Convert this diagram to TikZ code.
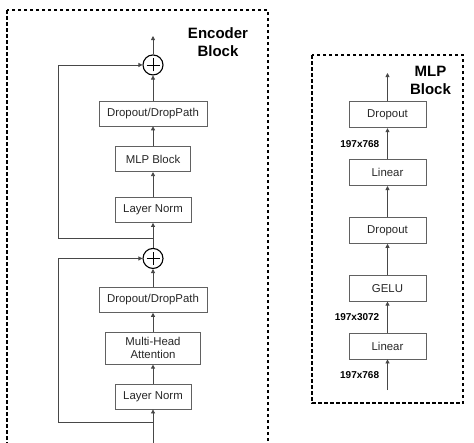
\documentclass[tikz,border=0pt]{standalone}
\usepackage{fontspec}
\setmainfont{Liberation Sans}
\usetikzlibrary{positioning,arrows.meta,chains}

\begin{document}
\begin{tikzpicture}[x=1pt, y=1pt, >={Triangle[length=4pt,width=4pt]},
            node distance = 19pt,
            line/.style = {draw=black!72, line width=0.8pt},
            box/.style = {draw=black!62, line width=0.8pt, minimum height=25pt, align=center,
                    inner sep=2pt, text=black!85, font=\fontsize{11.4}{13}\selectfont},
            addnode/.style = {circle, draw, line width=1.1pt, minimum size=20pt, inner sep=0pt,
                    path picture={\draw[line width=0.9pt]
                        ([xshift=-6.5pt]path picture bounding box.center) -- ([xshift=6.5pt]path picture bounding box.center)
                        ([yshift=-6.5pt]path picture bounding box.center) -- ([yshift=6.5pt]path picture bounding box.center);}},
            frame/.style = {draw, line width=1.3pt, dash pattern=on 3.5pt off 2.5pt},
            title/.style = {align=center, font=\bfseries\fontsize{15}{17.6}\selectfont},
            dims/.style = {left, xshift=-8pt, inner sep=0pt, font=\bfseries\fontsize{10}{12}\selectfont},
        ]

        \useasboundingbox (0,0) rectangle (474,-442);
        \clip (0,0) rectangle (474,-442);

        % encoder block
        \draw[frame] (7,-10) rectangle (268,-470);
        \node[title] (enc-title) at (218,-42) {Encoder\\Block};

        \node[box, minimum width=76pt] (ln1) at (153,-396.5) {Layer Norm};
        \node[box, minimum width=95pt, minimum height=32pt, above=of ln1] (mha) {Multi-Head\\Attention};
        \node[box, minimum width=108pt, above=of mha] (dd1) {Dropout/DropPath};
        \node[addnode, above=18pt of dd1] (add1) {};
        \node[box, minimum width=76pt, above=25pt of add1] (ln2) {Layer Norm};
        \node[box, minimum width=75pt, above=25pt of ln2] (mlp) {MLP Block};
        \node[box, minimum width=108pt, above=20pt of mlp] (dd2) {Dropout/DropPath};
        \node[addnode, above=25pt of dd2] (add2) {};

        \coordinate (e-in) at (153,-460);
        \coordinate (e-split1) at (153,-422);
        \coordinate (e-split2) at (153,-238);
        \coordinate (e-out) at (153,-36);

        \draw[line,->] (e-in) -- (ln1);
        \draw[line,->] (ln1) -- (mha);
        \draw[line,->] (mha) -- (dd1);
        \draw[line,->] (dd1) -- (add1);
        \draw[line,->] (add1) -- (ln2);
        \draw[line,->] (ln2) -- (mlp);
        \draw[line,->] (mlp) -- (dd2);
        \draw[line,->] (dd2) -- (add2);
        \draw[line,->] (add2) -- (e-out);
        \draw[line,->] (e-split1) -- ++(-95,0) |- (add1);
        \draw[line,->] (e-split2) -- ++(-95,0) |- (add2);

        % mlp block
        \draw[frame] (312,-55) rectangle (463,-403);
        \node[title] (mlp-title) at (430.5,-80.5) {MLP\\Block};

        \begin{scope}[shift={(387.5,-346)}, start chain = M going above, node distance = 31pt,
                mbox/.style = {box, minimum width=77pt, minimum height=26pt, on chain=M}]
            \node[mbox] {Linear};
            \node[mbox] {GELU};
            \node[mbox] {Dropout};
            \node[mbox] {Linear};
            \node[mbox] {Dropout};
        \end{scope}

        \foreach \i [count=\j] in {2,...,5}
            {
                \draw[line,->] (M-\j) -- (M-\i);
            }

        \coordinate (m-in) at (387.5,-390);
        \coordinate (m-out) at (387.5,-73);
        \draw[line,->] (m-in) -- node[dims] (dim-in) {197x768} (M-1);
        \draw[line,->] (M-5) -- (m-out);
        \path (M-1) -- node[dims] (dim-hidden) {197x3072} (M-2);
        \path (M-4) -- node[dims] (dim-out) {197x768} (M-5);
    \end{tikzpicture}
\end{document}
